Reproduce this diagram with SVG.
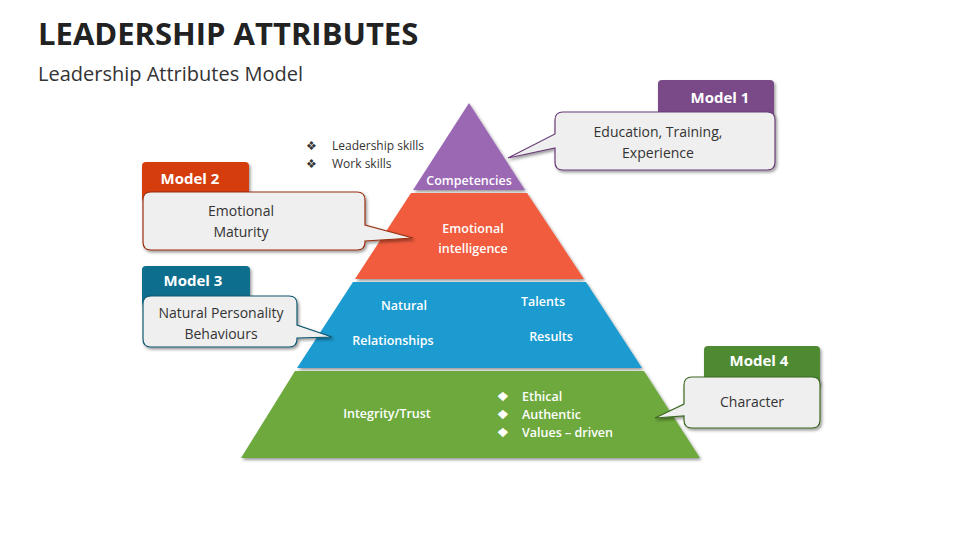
<svg xmlns="http://www.w3.org/2000/svg" width="960" height="540" viewBox="0 0 960 540">
<defs>
<filter id="sh" x="-10%" y="-10%" width="130%" height="140%"><feDropShadow dx="1.5" dy="2" stdDeviation="1.5" flood-opacity="0.4"/></filter>
<style>
text{font-family:"Open Sans","Liberation Sans",sans-serif}
.t{font-size:14px;fill:#333;text-anchor:middle}
.w{font-size:12.5px;fill:#fff;font-weight:600}
.tab{font-size:15px;fill:#fff;font-weight:700;text-anchor:middle}
.bx{fill:#EFEFEF;stroke-width:1.2;filter:url(#sh)}
.b{font-size:12px;fill:#333}
</style>
</defs>
<text x="38" y="45" font-size="31" font-weight="700" fill="#222" style="font-family:'Open Sans','Liberation Sans',sans-serif">LEADERSHIP ATTRIBUTES</text>
<text x="38" y="81" font-size="20" fill="#333">Leadership Attributes Model</text>

<g id="pyramid" filter="url(#sh)">
<polygon points="469,103 525,190 413,190" fill="#9B68B4"/>
<polygon points="411,193 527,193 584,279 355,279" fill="#F05C3E"/>
<polygon points="353,282 586,282 642,368 297,368" fill="#1A9BD0"/>
<polygon points="295,371 644,371 700,458 241,458" fill="#6DA93D"/>
</g>
<g id="pyramid-text">
<text class="w" x="469" y="185" text-anchor="middle">Competencies</text>
<text class="w" x="473" y="233" text-anchor="middle">Emotional</text>
<text class="w" x="473" y="253" text-anchor="middle">intelligence</text>
<text class="w" x="404" y="310" text-anchor="middle">Natural</text>
<text class="w" x="543" y="306" text-anchor="middle">Talents</text>
<text class="w" x="393" y="345" text-anchor="middle">Relationships</text>
<text class="w" x="551" y="341" text-anchor="middle">Results</text>
<text class="w" x="387" y="418" text-anchor="middle">Integrity/Trust</text>
<text class="w" x="497" y="401">❖</text><text class="w" x="522" y="401">Ethical</text>
<text class="w" x="497" y="419">❖</text><text class="w" x="522" y="419">Authentic</text>
<text class="w" x="497" y="437">❖</text><text class="w" x="522" y="437">Values – driven</text>
<text class="b" x="306" y="150">❖</text><text class="b" x="332" y="150">Leadership skills</text>
<text class="b" x="306" y="168">❖</text><text class="b" x="332" y="168">Work skills</text>
</g>

<g id="model1">
<rect x="658" y="80" width="116" height="40" rx="4" fill="#7A4A88" filter="url(#sh)"/>
<text class="tab" x="720" y="103">Model 1</text>
<path class="bx" stroke="#6A3D78" d="M563,112 H767 Q775,112 775,120 V162 Q775,170 767,170 H563 Q555,170 555,162 V148 L508,158 L555,134 V120 Q555,112 563,112 Z"/>
<text class="t" x="658" y="137">Education, Training,</text>
<text class="t" x="658" y="158">Experience</text>
</g>
<g id="model2">
<rect x="142" y="162" width="107" height="40" rx="4" fill="#D63C10" filter="url(#sh)"/>
<text class="tab" x="190" y="184">Model 2</text>
<path class="bx" stroke="#9A2E10" d="M151,192 H357 Q365,192 365,200 V225 L413,238 L365,241 V242 Q365,250 357,250 H151 Q143,250 143,242 V200 Q143,192 151,192 Z"/>
<text class="t" x="241" y="216">Emotional</text>
<text class="t" x="241" y="237">Maturity</text>
</g>
<g id="model3">
<rect x="142" y="266" width="108" height="40" rx="4" fill="#0E6E8E" filter="url(#sh)"/>
<text class="tab" x="193" y="286">Model 3</text>
<path class="bx" stroke="#0E5870" d="M151,296 H289 Q297,296 297,304 V325 L332,337 L297,338 V339 Q297,347 289,347 H151 Q143,347 143,339 V304 Q143,296 151,296 Z"/>
<text class="t" x="221" y="318">Natural Personality</text>
<text class="t" x="221" y="339">Behaviours</text>
</g>
<g id="model4">
<rect x="704" y="346" width="116" height="40" rx="4" fill="#4E8A30" filter="url(#sh)"/>
<text class="tab" x="759" y="366">Model 4</text>
<path class="bx" stroke="#3C6A22" d="M692,377 H812 Q820,377 820,385 V420 Q820,428 812,428 H692 Q684,428 684,420 V416 L655,418 L684,404 V385 Q684,377 692,377 Z"/>
<text class="t" x="752" y="407">Character</text>
</g>
</svg>
